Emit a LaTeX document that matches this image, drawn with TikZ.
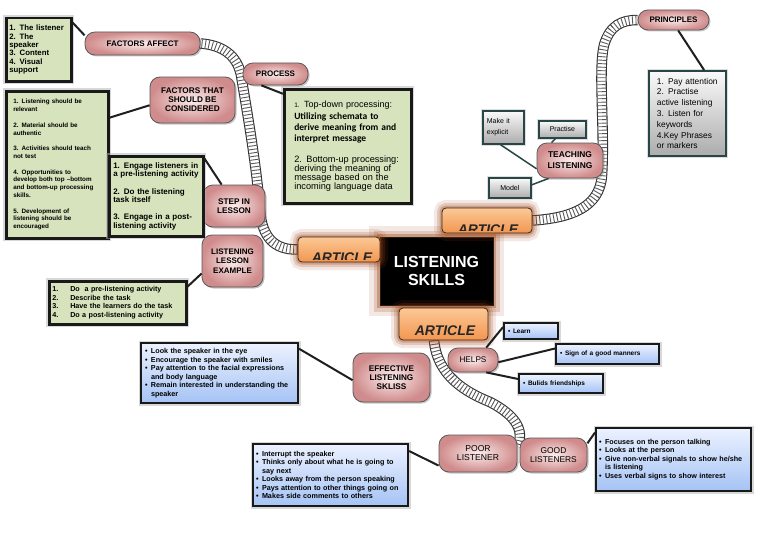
\documentclass[tikz,border=0pt]{standalone}
\usepackage{fontspec}
\setmainfont{Liberation Sans}
\newfontfamily\carlito{Carlito}
\usetikzlibrary{shadows}
\setlength{\parindent}{0pt}
\pgfdeclarelayer{backdrop}
\pgfdeclarelayer{ropes}
\pgfsetlayers{backdrop,ropes,main}
\definecolor{pinkin}{RGB}{252,236,236}
\definecolor{pinkout}{RGB}{208,140,140}
\definecolor{greenc}{RGB}{214,227,188}
\definecolor{bluetop}{RGB}{236,242,255}
\definecolor{bluebot}{RGB}{165,195,245}
\definecolor{greytop}{RGB}{250,250,250}
\definecolor{greybot}{RGB}{172,172,172}
\definecolor{orangetop}{RGB}{252,200,150}
\definecolor{orangebot}{RGB}{242,150,80}
\definecolor{glowc}{RGB}{160,70,25}
\definecolor{tealline}{RGB}{40,70,72}
\newcommand{\mybul}{\makebox[6pt][l]{\textbullet}}
\newcommand{\mysbul}{\makebox[5pt][l]{\textbullet}}
\begin{document}
\begin{tikzpicture}[x=1pt,y=-1pt,
  pinknode/.style={rectangle, rounded corners=10pt, draw=black!65, line width=0.8pt,
    inner color=pinkin, outer color=pinkout, align=center, inner sep=1pt,
    font=\bfseries\fontsize{8.2}{9}\selectfont,
    drop shadow={opacity=0.45, shadow xshift=1.5pt, shadow yshift=-1.5pt}},
  greenbox/.style={rectangle, fill=greenc, draw=black!90, line width=2.5pt, align=left,
    anchor=north west, preaction={draw=gray!60, line width=6pt, opacity=0.5}},
  bluebox/.style={rectangle, top color=bluetop, bottom color=bluebot, draw=black!90,
    line width=2pt, align=left, anchor=north west,
    preaction={draw=gray!60, line width=5pt, opacity=0.5},
    font=\bfseries\fontsize{7.2}{8.5}\selectfont},
  greybox/.style={rectangle, top color=greytop, bottom color=greybot, draw=tealline,
    line width=1.8pt, anchor=north west, align=left, font=\fontsize{7}{11}\selectfont,
    preaction={draw=gray!50, line width=4.5pt, opacity=0.5}},
  article/.style={rectangle, rounded corners=4pt, top color=orangetop, bottom color=orangebot,
    draw=black!70!brown, line width=0.8pt,
    preaction={draw=glowc, line width=16pt, opacity=0.12},
    preaction={draw=glowc, line width=10pt, opacity=0.2},
    preaction={draw=glowc, line width=5pt, opacity=0.3}},
  arttext/.style={font=\bfseries\itshape\fontsize{14}{14}\selectfont, text=black!85, inner sep=0pt},
  central/.style={rectangle, fill=black, draw=black!80!brown, line width=1pt, text=white,
    align=center, font=\bfseries\fontsize{16}{18}\selectfont,
    preaction={draw=glowc, line width=22pt, opacity=0.12},
    preaction={draw=glowc, line width=13pt, opacity=0.2},
    preaction={draw=glowc, line width=6pt, opacity=0.35}},
  link/.style={draw=black!88, line width=2pt},
  tlink/.style={draw=tealline, line width=1.5pt},
  rope/.style={draw=black!80, line width=10.5pt,
    postaction={draw=white, line width=8.3pt},
    postaction={draw=black!65, line width=8.3pt, dash pattern=on 0.9pt off 2.6pt}}
]
\useasboundingbox (0,0) rectangle (768,543);
\begin{pgfonlayer}{backdrop}
\fill[white] (0,0) rectangle (768,543);
\end{pgfonlayer}

% central and article nodes
\node[central, minimum width=113pt, minimum height=68pt] (ls) at (436.5,271) {LISTENING\\SKILLS};
\node[article, minimum width=90pt, minimum height=25pt] (artTR) at (487,220.5) {};
\node[article, minimum width=82pt, minimum height=25pt] (artL) at (339,249.5) {};
\node[article, minimum width=89pt, minimum height=32pt] (artB) at (443.5,324) {};
\begin{scope}
  \clip (442,208) rectangle (532,230);
  \node[arttext, anchor=base] (tTR) at (488,234) {ARTICLE};
\end{scope}
\begin{scope}
  \clip (298,237) rectangle (380,259);
  \node[arttext, anchor=base] (tL) at (342,262) {ARTICLE};
\end{scope}
\node[arttext, anchor=base] (tB) at (445,335) {ARTICLE};

% pink nodes
\node[pinknode, minimum width=115pt, minimum height=23pt, font=\bfseries\fontsize{8}{9}\selectfont] (fa) at (142.5,43.5) {FACTORS AFFECT};
\node[pinknode, minimum width=65pt, minimum height=22pt, font=\bfseries\fontsize{8}{9}\selectfont] (proc) at (275.5,74) {PROCESS};
\node[pinknode, minimum width=85pt, minimum height=46pt] (fc) at (192.5,100) {FACTORS THAT\\SHOULD BE\\CONSIDERED};
\node[pinknode, minimum width=62pt, minimum height=42pt] (step) at (234,206) {STEP IN\\LESSON};
\node[pinknode, minimum width=61pt, minimum height=52pt, font=\bfseries\fontsize{8}{9.5}\selectfont] (lle) at (232.5,261) {LISTENING\\LESSON\\EXAMPLE};
\node[pinknode, minimum width=71pt, minimum height=20pt, font=\bfseries\fontsize{8}{9}\selectfont] (pr) at (673.5,20) {PRINCIPLES};
\node[pinknode, minimum width=66pt, minimum height=35pt, font=\bfseries\fontsize{8.4}{11}\selectfont] (tl) at (570,160.5) {TEACHING\\LISTENING};
\node[pinknode, minimum width=50pt, minimum height=24pt, font=\fontsize{8.2}{9}\selectfont] (helps) at (473,360) {HELPS};
\node[pinknode, minimum width=77pt, minimum height=49pt] (eff) at (391.5,377.5) {EFFECTIVE\\LISTENING\\SKLISS};
\node[pinknode, minimum width=78pt, minimum height=37pt, font=\fontsize{8.6}{9}\selectfont] (poor) at (478,453.5) {POOR\\LISTENER};
\node[pinknode, minimum width=67pt, minimum height=34pt, font=\fontsize{8.4}{9}\selectfont] (good) at (553.5,455) {GOOD\\LISTENERS};

% green boxes
\node[greenbox, text width=59pt, inner xsep=3pt, minimum height=63pt,
  font=\bfseries\fontsize{7.8}{8.4}\selectfont] (faList) at (5,17)
  {1. The listener\\2. The\\speaker\\3. Content\\4. Visual\\support};
\node[greenbox, text width=88pt, inner xsep=7pt, minimum height=147pt,
  font=\bfseries\fontsize{6.3}{7.8}\selectfont] (fcList) at (5,90)
  {1. Listening should be\\relevant\\[7.8pt]2. Material should be\\authentic\\[7.8pt]3. Activities should teach\\not test\\[7.8pt]4. Opportunities to\\develop both top –bottom\\and bottom-up processing\\skills.\\[7.8pt]5. Development of\\listening should be\\encouraged};
\node[greenbox, text width=86pt, inner xsep=4pt, minimum height=80pt,
  font=\bfseries\fontsize{8}{8.6}\selectfont] (stepList) at (108,155)
  {\makebox[86pt][s]{1. Engage listeners in}\\a pre-listening activity\\[8.6pt]\makebox[86pt][s]{2. Do the listening}\\task itself\\[8.6pt]\makebox[86pt][s]{3. Engage in a post-}\\listening activity};
\node[greenbox, text width=131pt, inner xsep=3pt, minimum height=43pt,
  font=\bfseries\fontsize{7.2}{8.4}\selectfont] (exList) at (48,280)
  {\makebox[18pt][l]{1.}Do\ \ a pre-listening activity\\\makebox[18pt][l]{2.}Describe the task\\\makebox[18pt][l]{3.}Have the learners do the task\\\makebox[18pt][l]{4.}Do a post-listening activity};
\node[greenbox, text width=107pt, inner xsep=10pt, minimum height=114pt,
  font=\fontsize{9}{11}\selectfont] (procBox) at (283,88) {%
  \makebox[107pt][s]{{\fontsize{6.5}{7}\selectfont 1.} Top-down processing:}\par
  {\carlito\bfseries\fontsize{9.5}{11.3}\selectfont\makebox[107pt][s]{Utilizing schemata to}\par\makebox[107pt][s]{derive meaning from and}\par interpret message\par}
  \vspace{12pt}
  {\fontsize{9.2}{8.9}\selectfont 2. Bottom-up processing:\par deriving the meaning of\par message based on the\par incoming language data\par}};

% grey boxes
\node[greybox, text width=61pt, inner xsep=8pt, minimum height=85pt,
  font=\fontsize{8.4}{10.8}\selectfont] (prList) at (648,70)
  {1. Pay attention\\2. Practise\\active listening\\3. Listen for\\keywords\\4.Key Phrases\\or markers};
\node[greybox, text width=33pt, inner xsep=4pt, minimum height=33pt] (explicit) at (482,110) {Make it\\explicit};
\node[greybox, minimum width=47pt, minimum height=17pt, align=center] (practise) at (538,120) {Practise};
\node[greybox, minimum width=42pt, minimum height=20pt, align=center] (model) at (488,177) {Model};

% blue boxes
\node[bluebox, text width=149pt, inner xsep=4pt, minimum height=60pt] (effList) at (140,342)
  {\mybul Look the speaker in the eye\\\mybul Encourage the speaker with smiles\\\mybul\makebox[139pt][s]{Pay attention to the facial expressions}\\\hspace*{6pt}and body language\\\mybul\makebox[139pt][s]{Remain interested in understanding the}\\\hspace*{6pt}speaker};
\node[bluebox, text width=149pt, inner xsep=3pt, minimum height=62pt] (poorList) at (252,443)
  {\mybul Interrupt the speaker\\\mybul\makebox[137pt][s]{Thinks only about what he is going to}\\\hspace*{6pt}say next\\\mybul Looks away from the person speaking\\\mybul Pays attention to other things going on\\\mybul Makes side comments to others};
\node[bluebox, text width=149pt, inner xsep=3pt, minimum height=63pt] (goodList) at (595,427)
  {\mybul Focuses on the person talking\\\mybul Looks at the person\\\mybul\makebox[137pt][s]{Give non-verbal signals to show he/she}\\\hspace*{6pt}is listening\\\mybul Uses verbal signs to show interest\\[4pt]};
\node[bluebox, text width=46pt, inner xsep=4pt, minimum height=16pt, font=\bfseries\fontsize{6.5}{7}\selectfont] (learn) at (503,322) {\mysbul Learn};
\node[bluebox, text width=95pt, inner xsep=4pt, minimum height=20pt, font=\bfseries\fontsize{6.5}{7}\selectfont] (sign) at (555,343) {\mysbul Sign of a good manners};
\node[bluebox, text width=76pt, inner xsep=4pt, minimum height=19pt, font=\bfseries\fontsize{6.5}{7}\selectfont] (builds) at (518,373) {\mysbul Bulids friendships};

% connectors
\draw[link] (faList.39) -- (fa.172);
\draw[link] (fcList.42) -- (fc.187);
\draw[link] (stepList.38) -- (step.120);
\draw[link] (exList.13) -- (lle.202);
\draw[link] (procBox.141) -- (proc.219);
\draw[link] (prList.69) -- (pr.294);
\draw[tlink] (explicit.261) -- (tl.194);
\draw[tlink] (practise.233) -- (tl.136);
\draw[tlink] (model.8) -- (tl.220);
\draw[link] (learn.172) -- (helps.43);
\draw[link] (sign.174) -- (helps.355);
\draw[link] (builds.174) -- (helps.317);
\draw[link] (effList.17) -- (eff.184);
\draw[link] (poorList.17) -- (poor.197);
\draw[link] (goodList.161) -- (good.19);

% ropes
\begin{pgfonlayer}{ropes}
\draw[rope] (artL.west) .. controls (275,250) and (262,238) .. (260,210)
  .. controls (256,160) and (245,100) .. (241,75)
  .. controls (237,55) and (222,45) .. (fa.east);
\draw[rope] (artTR.east) .. controls (570,218) and (600,208) .. (602,175)
  .. controls (605,130) and (598,70) .. (604,45)
  .. controls (610,25) and (622,20) .. (pr.west);
\draw[rope] (artB.240) .. controls (437,375) and (465,392) .. (490,402)
  .. controls (515,415) and (525,430) .. (poor.10);
\end{pgfonlayer}
\end{tikzpicture}
\end{document}
